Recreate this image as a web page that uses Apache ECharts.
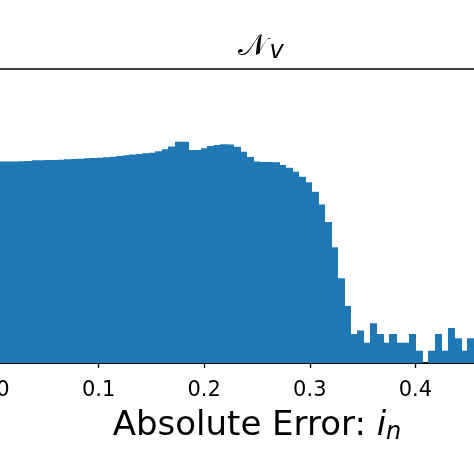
<!DOCTYPE html>
<html>
<head>
<meta charset="utf-8">
<script src="https://cdn.jsdelivr.net/npm/echarts@6/dist/echarts.min.js"></script>
<style>
  html, body { margin: 0; padding: 0; background: #fff; }
  #chart { width: 474px; height: 474px; }
</style>
</head>
<body>
<div id="chart"></div>
<script>
// Histogram of absolute error (bin width in data units, bins start at 0)
const binWidth = 0.00615;
const counts = [
  201.5, 201.5, 201.5, 201.5, 201.7, 202, 202.7, 202.7, 203, 203,
  203.3, 203.7, 204, 204.3, 204.7, 205, 205.3, 205.7, 206.3, 207,
  207.7, 208.5, 209, 209.7, 210.3, 211.7, 213.7, 216.5, 221.3, 221.3,
  213, 213, 214.7, 217, 218, 218.7, 218.5, 216.3, 211.3, 206,
  201.5, 201, 201, 200.7, 198, 195.3, 191.3, 186.3, 180.7, 171.3,
  158.5, 141, 115.7, 84.7, 57, 29, 32.5, 20.3, 39.7, 29,
  20.3, 29, 20.3, 20.3, 29, 12.3, 0, 12.3, 29, 12.3,
  35, 24.7, 12.3, 24.7, 24.7
];
const xMin = 0, xMax = 0.5, xStep = 0.1;
const yMin = 0, yMax = 294;

const data = counts.map((c, i) => [i * binWidth, (i + 1) * binWidth, c]);

const chart = echarts.init(document.getElementById('chart'), null, { renderer: 'canvas' });
chart.setOption({
  animation: false,
  backgroundColor: '#ffffff',
  textStyle: { fontFamily: 'DejaVu Sans' },
  title: {
    text: '{n|𝒩}{v|v}',
    left: 256,
    top: 25,
    textAlign: 'center',
    textStyle: {
      fontWeight: 'normal',
      rich: {
        n: { fontFamily: 'DejaVu Serif', fontSize: 30, color: '#000', fontWeight: 'normal' },
        v: { fontFamily: 'DejaVu Sans', fontSize: 24, color: '#000', fontStyle: 'italic', fontWeight: 'normal', padding: [10, 0, 0, 2] }
      }
    }
  },
  grid: {
    left: -7, right: -47, top: 69, bottom: 111,
    outerBoundsMode: 'none',
    show: true, borderColor: '#000', borderWidth: 1.5, containLabel: false
  },
  xAxis: {
    type: 'value', min: xMin, max: xMax, interval: xStep,
    axisLine: { show: true, lineStyle: { color: '#000', width: 1.5 } },
    axisTick: { show: true, inside: false, length: 5, lineStyle: { color: '#000', width: 1.3 } },
    axisLabel: { fontSize: 21, color: '#000', margin: 17, fontFamily: 'DejaVu Sans',
                 formatter: v => v.toFixed(1) },
    splitLine: { show: false },
    name: '{a|Absolute Error: }{i|i}{s|n}',
    nameLocation: 'middle',
    nameGap: 44,
    nameTextStyle: {
      rich: {
        a: { fontFamily: 'DejaVu Sans', fontSize: 34, color: '#000' },
        i: { fontFamily: 'DejaVu Sans', fontSize: 34, color: '#000', fontStyle: 'italic' },
        s: { fontFamily: 'DejaVu Sans', fontSize: 24, color: '#000', fontStyle: 'italic', padding: [14, 0, 0, 0] }
      }
    }
  },
  yAxis: {
    type: 'value', min: yMin, max: yMax,
    axisLine: { show: false }, axisTick: { show: false },
    axisLabel: { show: false }, splitLine: { show: false }
  },
  series: [{
    type: 'custom',
    data: data,
    encode: { x: [0, 1], y: 2 },
    clip: true,
    renderItem: function (params, api) {
      const p0 = api.coord([api.value(0), api.value(2)]);
      const p1 = api.coord([api.value(1), 0]);
      const x0 = Math.round(p0[0]);
      const x1 = Math.round(p1[0]);
      return {
        type: 'rect',
        shape: { x: x0, y: p0[1], width: x1 - x0 + 1, height: p1[1] - p0[1] },
        style: { fill: '#1f77b4', stroke: null, lineWidth: 0 }
      };
    }
  }]
});
</script>
</body>
</html>
